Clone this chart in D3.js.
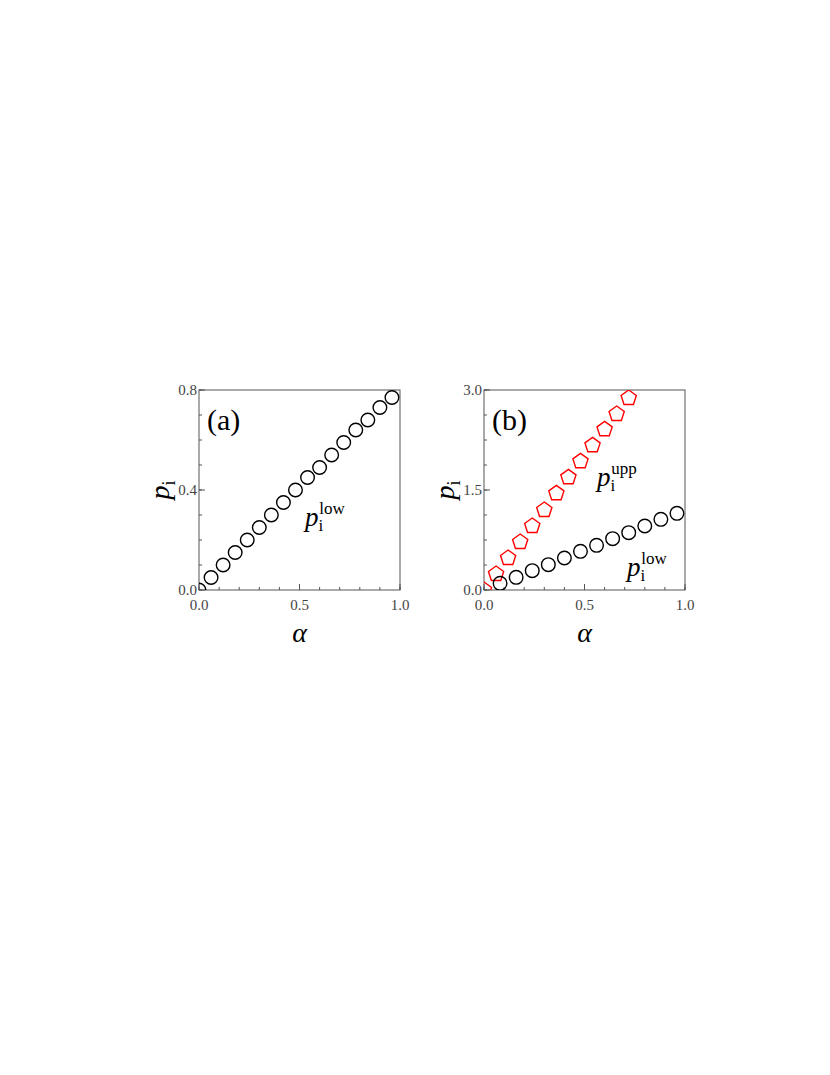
<!DOCTYPE html>
<html><head><meta charset="utf-8">
<script src="https://cdn.jsdelivr.net/npm/d3@7"></script>
<style>body{margin:0;background:#fff}text{font-family:"Liberation Serif",serif}</style>
</head><body><svg id="c" width="830" height="1075"></svg>
<script>
// panel (a)
var aX = [0,0.06,0.12,0.18,0.24,0.30,0.36,0.42,0.48,0.54,0.60,0.66,0.72,0.78,0.84,0.90,0.96];
var aLow = [0,0.05,0.10,0.15,0.20,0.25,0.30,0.35,0.40,0.45,0.49,0.54,0.59,0.64,0.68,0.73,0.77];
// panel (b)
var bUppX = [0,0.06,0.12,0.18,0.24,0.30,0.36,0.42,0.48,0.54,0.60,0.66,0.72];
var bUpp = [0,0.24,0.48,0.72,0.96,1.20,1.45,1.69,1.93,2.17,2.41,2.64,2.88];
var bLowX = [0.08,0.16,0.24,0.32,0.40,0.48,0.56,0.64,0.72,0.80,0.88,0.96];
var bLow = [0.10,0.19,0.29,0.38,0.48,0.58,0.67,0.77,0.86,0.96,1.06,1.15];
var xTicks = [0, 0.5, 1.0];
var aYTicks = [0, 0.4, 0.8];
var bYTicks = [0, 1.5, 3.0];

var svg = d3.select("#c");

function panel(left, yMax, yTicks, fmt, tag) {
    var w = 201, h = 200, top = 390;
    var g = svg.append("g").attr("transform", "translate(" + left + "," + top + ")");
    var x = d3.scaleLinear().domain([0, 1]).range([0, w]);
    var y = d3.scaleLinear().domain([0, yMax]).range([h, 0]);

    // minor ticks (inside)
    var xm = d3.range(0, 1.0001, 0.1), ym = d3.range(0, 9).map(function(i){ return i * yMax / 8; });
    g.selectAll(".xm").data(xm).enter().append("line")
      .attr("x1", x).attr("x2", x).attr("y1", h).attr("y2", h - 3).attr("stroke", "#555");
    g.selectAll(".ym").data(ym).enter().append("line")
      .attr("y1", y).attr("y2", y).attr("x1", 0).attr("x2", 3).attr("stroke", "#555");
    g.selectAll(".xM").data(xTicks).enter().append("line")
      .attr("x1", x).attr("x2", x).attr("y1", h).attr("y2", h - 6).attr("stroke", "#555");
    g.selectAll(".yM").data(yTicks).enter().append("line")
      .attr("y1", y).attr("y2", y).attr("x1", 0).attr("x2", 6).attr("stroke", "#555");

    g.append("rect").attr("width", w).attr("height", h)
      .attr("fill", "none").attr("stroke", "#555").attr("stroke-width", 1);

    g.selectAll(".xl").data(xTicks).enter().append("text")
      .attr("x", x).attr("y", h + 20).attr("text-anchor", "middle")
      .attr("font-size", 15).attr("fill", "#444").text(d3.format(".1f"));
    g.selectAll(".yl").data(yTicks).enter().append("text")
      .attr("x", -2).attr("y", function(d){ return y(d) + 5; }).attr("text-anchor", "end")
      .attr("font-size", 15).attr("fill", "#444").text(fmt);

    g.append("text").attr("x", w / 2).attr("y", h + 52).attr("text-anchor", "middle")
      .attr("font-size", 28).attr("font-style", "italic").text("α");
    var yl = g.append("text").attr("transform", "translate(-30," + (h / 2) + ") rotate(-90)")
      .attr("text-anchor", "middle").attr("font-size", 28);
    yl.append("tspan").attr("font-style", "italic").text("p");
    yl.append("tspan").attr("font-size", 18).attr("dy", 6).text("i");

    g.append("text").attr("x", 8).attr("y", 40).attr("font-size", 30).text(tag);

    g.append("clipPath").attr("id", "cp" + tag.length + left)
      .append("rect").attr("width", w).attr("height", h);
    var pg = g.append("g").attr("clip-path", "url(#cp" + tag.length + left + ")");
    return {g: g, pg: pg, x: x, y: y};
}

function label(g, px, py, sup) {
    var t = g.append("text").attr("x", px).attr("y", py).attr("font-size", 27);
    t.append("tspan").attr("font-style", "italic").text("p");
    t.append("tspan").attr("font-size", 17).attr("dy", 5).text("i");
    t.append("tspan").attr("font-size", 17).attr("dx", -4).attr("dy", -17).text(sup);
}

function circles(p, xs, ys) {
    p.pg.selectAll(null).data(xs).enter().append("circle")
      .attr("cx", function(d){ return p.x(d); })
      .attr("cy", function(d, i){ return p.y(ys[i]); })
      .attr("r", 6.8).attr("fill", "none").attr("stroke", "#000").attr("stroke-width", 1.4);
}

var pa = panel(199, 0.8, aYTicks, d3.format(".1f"), "(a)");
circles(pa, aX, aLow);
label(pa.g, 106, 136, "low");

var pb = panel(484, 3.0, bYTicks, d3.format(".1f"), "(b)");
var pent = d3.symbol().type(d3.symbolDiamond2);
var pentPath = d3.line()(d3.range(5).map(function(i){
    var a = -Math.PI / 2 + i * 2 * Math.PI / 5;
    return [8 * Math.cos(a), 8 * Math.sin(a)];
})) + "Z";
pb.pg.selectAll(null).data(bUppX).enter().append("path")
  .attr("d", pentPath)
  .attr("transform", function(d, i){ return "translate(" + pb.x(d) + "," + pb.y(bUpp[i]) + ")"; })
  .attr("fill", "none").attr("stroke", "#f00").attr("stroke-width", 1.4);
circles(pb, bLowX, bLow);
label(pb.g, 113, 96, "upp");
label(pb.g, 143, 186, "low");
</script></body></html>
